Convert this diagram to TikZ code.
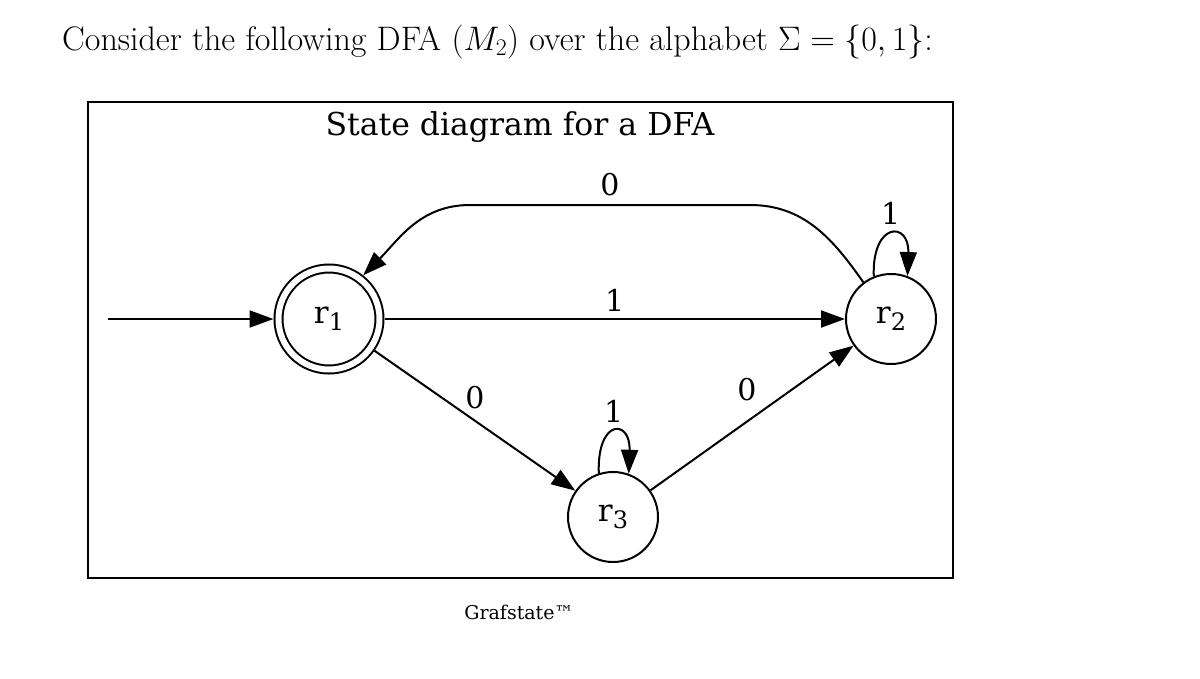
\RequirePackage{fix-cm}
\documentclass[tikz,border=0pt]{standalone}
\usepackage{fontspec}
\usepackage{amsmath,amssymb}
\usetikzlibrary{positioning,arrows.meta,calc}
\newfontfamily\gvfont{DejaVu Serif}
\newcommand{\rsub}[1]{r\raisebox{-7pt}{\fontsize{24}{24}\selectfont #1}}

\begin{document}
\begin{tikzpicture}[x=1pt, y=-1pt, % one unit = one pixel of the target
                    state/.style={circle, draw, line width=2pt, minimum size=90pt, inner sep=0pt,
                                  font=\gvfont\fontsize{31}{36}\selectfont},
                    accept/.style={state, minimum size=101pt, double, double distance=6pt, outer sep=5pt},
                    edge/.style={-{Triangle[length=24pt, width=17pt]}, line width=2pt},
                    lbl/.style={inner sep=3pt, font=\gvfont\fontsize{30}{35}\selectfont}]
    \useasboundingbox (0,0) rectangle (1200,678);

    % Question text
    \node[anchor=base west, inner sep=0pt, font=\fontsize{34}{40}\selectfont] (intro) at (62,50)
        {Consider the following DFA ($M_2$) over the alphabet $\Sigma = \{0,1\}$:};

    % Frame and title
    \draw[line width=2.2pt] (88,102) rectangle (953,578);
    \node[lbl, font=\gvfont\fontsize{31.5}{36}\selectfont] (title) at (520,127) {State diagram for a DFA};

    % States
    \node[accept] (r1) at (329,319) {\rsub{1}};
    \node[state] (r2) at (891,319) {\rsub{2}};
    \node[state] (r3) at (613,517) {\rsub{3}};
    \coordinate (start) at (108,319);
    \coordinate (topR) at (750,205);
    \coordinate (topL) at (470,205);

    % Transitions
    \draw[edge] (start) -- (r1);
    \draw[edge] (r1) -- node[lbl, midway, above=4pt] {1} (r2);
    \draw[edge] (r2.127) to[out=125, in=0] (topR) -- node[lbl, midway, above=5pt] {0} (topL)
                to[out=180, in=45] (r1.52);
    \draw[edge] (r1) -- node[lbl, midway, above=8pt] {0} (r3);
    \draw[edge] (r3) -- node[lbl, midway, above=13pt, xshift=-5pt] {0} (r2);

    % Self loops
    \draw[edge] (r2.112) .. controls +(-92:55) and +(-88:55) .. node[lbl, pos=0.5, above=6pt] {1} (r2.69);
    \draw[edge] (r3.108) .. controls +(-92:55) and +(-88:55) .. node[lbl, pos=0.5, above=6pt] {1} (r3.70);

    % Footer
    \node[font=\gvfont\fontsize{19}{22}\selectfont] (footer) at (519,612) {Grafstate™};
\end{tikzpicture}
\end{document}
